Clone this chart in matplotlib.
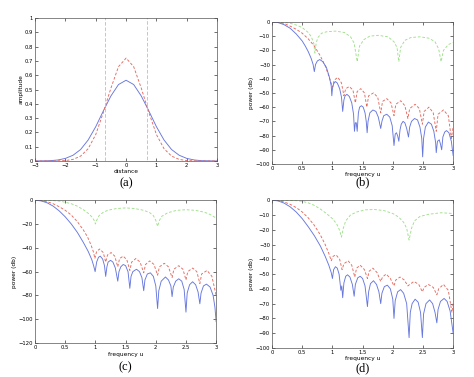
import matplotlib.pyplot as plt

# ---- (a) amplitude vs distance ----
dist = [-3, -2.5, -2.25, -2, -1.75, -1.5, -1.25, -1, -0.75, -0.5, -0.25, 0,
        0.25, 0.5, 0.75, 1, 1.25, 1.5, 1.75, 2, 2.25, 2.5, 3]
amp_blue = [0, 0.002, 0.007, 0.018, 0.04, 0.08, 0.147, 0.24, 0.35, 0.455, 0.535, 0.565,
            0.535, 0.455, 0.35, 0.24, 0.147, 0.08, 0.04, 0.018, 0.007, 0.002, 0]
amp_red = [0, 0, 0.001, 0.003, 0.011, 0.034, 0.086, 0.185, 0.34, 0.51, 0.66, 0.72,
           0.66, 0.51, 0.34, 0.185, 0.086, 0.034, 0.011, 0.003, 0.001, 0, 0]
box_x = [-3, -0.7, -0.7, 0.7, 0.7, 3]
box_y = [0, 0, 1.2, 1.2, 0, 0]

# ---- (b) ----
b_blue_u = [0, 0.1, 0.2, 0.3, 0.4, 0.5, 0.55, 0.6, 0.65, 0.68, 0.70,
            0.72, 0.75, 0.79, 0.84, 0.9, 0.95, 0.98, 0.99,
            1.00, 1.02, 1.05, 1.08, 1.12, 1.15, 1.17,
            1.19, 1.21, 1.24, 1.28, 1.32, 1.35, 1.365, 1.38, 1.395, 1.41,
            1.43, 1.45, 1.48, 1.51, 1.54, 1.56, 1.575,
            1.59, 1.62, 1.67, 1.72, 1.76, 1.80,
            1.82, 1.85, 1.9, 1.95, 1.99, 2.02, 2.04, 2.06, 2.08, 2.10,
            2.12, 2.14, 2.17, 2.20, 2.23, 2.26,
            2.28, 2.31, 2.36, 2.41, 2.45, 2.48, 2.495,
            2.51, 2.54, 2.59, 2.64, 2.68, 2.71, 2.72, 2.74, 2.77, 2.79, 2.81,
            2.83, 2.86, 2.89, 2.93, 2.97, 3.0]
b_blue_db = [0, -0.5, -2, -4.5, -8.5, -13.5, -17, -21, -26, -30, -35,
             -30, -27.5, -26.5, -28, -32, -39, -45, -52,
             -47, -43.5, -42, -43, -47, -53, -63,
             -55, -52, -51, -52.5, -57, -65, -77, -71, -71, -77,
             -64, -60, -59, -60, -64, -70, -78,
             -70, -64, -62, -63, -67, -75,
             -70, -66, -65, -67, -73, -87, -79, -78, -80, -84,
             -76, -72, -70, -71, -75, -81,
             -74, -70, -68, -69, -74, -82, -95,
             -82, -74, -70.5, -72, -77, -85, -92, -84, -83, -86, -90,
             -81, -77.5, -76.5, -78, -84, -94]
b_red_u = [0, 0.1, 0.2, 0.3, 0.4, 0.5, 0.6, 0.7, 0.8, 0.88, 0.94, 1.0,
           1.03, 1.09, 1.15, 1.19, 1.22, 1.28, 1.34, 1.38,
           1.41, 1.47, 1.53, 1.57, 1.60, 1.68, 1.75, 1.80,
           1.83, 1.9, 1.97, 2.02, 2.05, 2.13, 2.20, 2.25,
           2.28, 2.37, 2.44, 2.49, 2.52, 2.6, 2.67, 2.72,
           2.75, 2.84, 2.92, 2.97, 3.0]
b_red_db = [0, -0.3, -1.2, -3, -5.2, -8, -12, -17, -24, -31, -38, -46,
            -41, -39, -43, -52, -47, -45.5, -48, -57,
            -49, -47, -50, -60, -52, -50, -53, -64,
            -56, -54, -57, -66, -58, -55.5, -59, -68,
            -61, -58, -61, -72, -63, -60, -64, -77,
            -65, -62, -66, -82, -74]
b_green_u = [0, 0.2, 0.3, 0.4, 0.5, 0.6, 0.65, 0.69, 0.71, 0.73, 0.76, 0.82, 0.9, 1.05,
             1.2, 1.3, 1.36, 1.41, 1.45, 1.52, 1.62, 1.76, 1.92, 2.02, 2.07, 2.1,
             2.13, 2.2, 2.3, 2.45, 2.6, 2.7, 2.76, 2.8, 2.84, 2.92, 3.0]
b_green_db = [0, -0.3, -1, -2.2, -4, -7.5, -10.5, -15, -22, -15, -11, -8, -7, -6.5,
              -7.5, -10.5, -15, -28, -17, -12.5, -10, -9.5, -10.5, -14, -18, -28,
              -18, -13, -11, -10.5, -11.5, -14, -19, -28, -20, -16, -14.5]

# ---- (c) ----
c_blue_u = [0, 0.1, 0.2, 0.3, 0.4, 0.5, 0.6, 0.7, 0.8, 0.88, 0.94, 0.97, 0.995,
            1.02, 1.05, 1.08, 1.12, 1.15, 1.17,
            1.19, 1.21, 1.25, 1.29, 1.33, 1.37,
            1.39, 1.42, 1.46, 1.5, 1.54, 1.57,
            1.59, 1.62, 1.68, 1.73, 1.77, 1.80,
            1.82, 1.86, 1.91, 1.96, 2.0, 2.03,
            2.05, 2.09, 2.16, 2.21, 2.25, 2.27,
            2.29, 2.33, 2.38, 2.43, 2.47, 2.5,
            2.52, 2.56, 2.61, 2.66, 2.70, 2.73,
            2.75, 2.79, 2.84, 2.9, 2.95, 2.98, 3.0]
c_blue_db = [0, -0.6, -2.2, -5, -9, -14, -20, -27, -35.5, -43, -50, -55, -60,
             -52, -48, -47, -49.5, -55, -64,
             -56, -52, -50.5, -52, -57, -68,
             -60, -56, -54, -55, -60, -74,
             -64, -60, -58, -60, -65, -76,
             -67, -62, -61, -64, -72, -91,
             -76, -68, -64.5, -67, -72, -81,
             -73, -68, -66, -68, -75, -94,
             -78, -71, -68.5, -71, -77, -87,
             -78, -72, -70.5, -73, -80, -90, -102]
c_red_u = [0, 0.1, 0.2, 0.3, 0.4, 0.5, 0.6, 0.7, 0.8, 0.87, 0.93, 0.97, 0.99,
           1.02, 1.07, 1.13, 1.17, 1.20, 1.26, 1.32, 1.37,
           1.40, 1.46, 1.52, 1.57, 1.60, 1.67, 1.74, 1.80,
           1.83, 1.9, 1.97, 2.03, 2.06, 2.14, 2.21, 2.27,
           2.30, 2.38, 2.45, 2.5, 2.53, 2.61, 2.68, 2.73,
           2.76, 2.85, 2.93, 3.0]
c_red_db = [0, -0.3, -1.3, -3, -5.5, -8.5, -12.5, -18, -25, -31, -38, -44, -49,
            -43, -41, -44, -52, -46, -44, -47, -56,
            -49, -47, -50, -59, -52, -49, -52, -61,
            -54, -51, -54, -63, -56, -53, -56, -65,
            -58, -55, -58, -67, -60, -57, -60, -70,
            -62, -59, -64, -80]
c_green_u = [0, 0.3, 0.4, 0.5, 0.6, 0.7, 0.8, 0.88, 0.94, 0.98, 1.0, 1.02, 1.06, 1.12,
             1.2, 1.35, 1.5, 1.65, 1.8, 1.9, 1.96, 2.0, 2.03, 2.06, 2.1, 2.2, 2.35,
             2.5, 2.65, 2.8, 2.9, 3.0]
c_green_db = [0, -0.3, -0.8, -1.7, -3, -5, -8, -11, -14, -17, -20, -17, -13, -10.5,
              -8.5, -7, -6.5, -7, -8.5, -10.5, -13, -17, -22, -17, -13.5, -10.5, -8.5,
              -8, -8.5, -10, -12, -15]

# ---- (d) ----
d_blue_u = [0, 0.1, 0.2, 0.3, 0.4, 0.5, 0.6, 0.7, 0.8, 0.88, 0.94, 0.98, 1.0,
            1.02, 1.05, 1.08, 1.11, 1.14, 1.155, 1.17,
            1.19, 1.22, 1.25, 1.29, 1.33, 1.36,
            1.38, 1.42, 1.46, 1.5, 1.54, 1.58,
            1.6, 1.63, 1.68, 1.73, 1.77, 1.80,
            1.82, 1.86, 1.91, 1.96, 2.0, 2.02,
            2.04, 2.08, 2.13, 2.18, 2.23, 2.27,
            2.29, 2.32, 2.37, 2.42, 2.46, 2.49,
            2.51, 2.55, 2.61, 2.66, 2.70, 2.73,
            2.75, 2.79, 2.85, 2.9, 2.95, 3.0]
d_blue_db = [0, -0.5, -2, -4.5, -8, -12.5, -18, -24, -31, -38, -44, -49, -53,
             -47, -45, -46, -50, -61, -58, -66,
             -56, -51.5, -50.5, -52, -57, -65,
             -57, -52.5, -51.5, -53, -58, -72,
             -62, -56.5, -54.5, -57, -62, -70,
             -63, -58.5, -57.5, -60, -67, -80,
             -68, -62, -60.5, -63, -70, -93,
             -76, -70, -67, -69, -76, -93,
             -77, -70, -67.5, -70, -76, -83,
             -74, -68.5, -66.5, -68.5, -75, -90]
d_red_u = [0, 0.1, 0.2, 0.3, 0.4, 0.5, 0.6, 0.7, 0.8, 0.88, 0.94, 0.98,
           1.01, 1.06, 1.12, 1.16, 1.19, 1.26, 1.32, 1.37,
           1.40, 1.46, 1.53, 1.58, 1.61, 1.67, 1.74, 1.80,
           1.83, 1.89, 1.96, 2.02, 2.05, 2.12, 2.19, 2.25,
           2.28, 2.35, 2.43, 2.49, 2.52, 2.59, 2.67, 2.73,
           2.76, 2.84, 2.92, 2.98, 3.0]
d_red_db = [0, -0.3, -1.2, -2.8, -5, -8, -12, -17, -23.5, -30, -36, -41,
            -38, -37, -40, -47, -43, -41, -44, -52,
            -46, -44, -47, -53, -48, -46, -49, -55,
            -52, -50, -53, -58, -54, -52, -54, -58,
            -57, -55, -57, -62, -59, -57, -59, -64,
            -60, -57, -61, -76, -70]
d_green_u = [0, 0.4, 0.5, 0.6, 0.7, 0.8, 0.9, 1.0, 1.07, 1.12, 1.15, 1.18, 1.22, 1.3,
             1.4, 1.55, 1.7, 1.85, 2.0, 2.1, 2.18, 2.23, 2.27, 2.31, 2.36, 2.45, 2.6,
             2.8, 3.0]
d_green_db = [0, -0.3, -0.8, -1.8, -3.5, -6, -9, -12.5, -16, -20.5, -25, -19, -14, -10,
              -8, -6.5, -6.3, -7, -9, -11.5, -15, -19, -27, -19, -14, -11, -9.5,
              -8.5, -9]

BLUE = '#6677dd'
RED = '#e46a60'
GREEN = '#9fe08a'
lw = 0.65

fig = plt.figure(figsize=(4.74, 3.77), dpi=100)
ax_a = fig.add_axes([0.074, 0.573, 0.384, 0.379])
ax_b = fig.add_axes([0.574, 0.565, 0.382, 0.377])
ax_c = fig.add_axes([0.074, 0.090, 0.382, 0.379])
ax_d = fig.add_axes([0.574, 0.077, 0.382, 0.392])


def style(ax):
    ax.tick_params(direction='in', length=2, width=0.4, labelsize=3.8, pad=1.5,
                   top=True, right=True)
    for s in ax.spines.values():
        s.set_linewidth(0.5)
        s.set_color('#555555')


# (a)
ax_a.plot(dist, amp_blue, color=BLUE, lw=lw)
ax_a.plot(dist, amp_red, color=RED, lw=lw, ls=(0, (3, 2)))
ax_a.plot(box_x, box_y, color=GREEN, lw=lw, ls=(0, (4, 2)))
ax_a.set_xlim(-3, 3)
ax_a.set_ylim(0, 1)
ax_a.set_xticks([-3, -2, -1, 0, 1, 2, 3])
ax_a.set_yticks([0, 0.1, 0.2, 0.3, 0.4, 0.5, 0.6, 0.7, 0.8, 0.9, 1])
ax_a.set_yticklabels(['0', '0.1', '0.2', '0.3', '0.4', '0.5', '0.6', '0.7', '0.8', '0.9', '1'])
ax_a.set_xlabel('distance', fontsize=4.2, labelpad=1)
ax_a.set_ylabel('amplitude', fontsize=4.2, labelpad=1)
style(ax_a)

panels = [
    (ax_b, b_blue_u, b_blue_db, b_red_u, b_red_db, b_green_u, b_green_db, -100, 10),
    (ax_c, c_blue_u, c_blue_db, c_red_u, c_red_db, c_green_u, c_green_db, -120, 20),
    (ax_d, d_blue_u, d_blue_db, d_red_u, d_red_db, d_green_u, d_green_db, -100, 10),
]
for ax, bu, bd, ru, rd, gu, gd, ymin, step in panels:
    ax.plot(gu, gd, color=GREEN, lw=lw, ls=(0, (3, 2)))
    ax.plot(ru, rd, color=RED, lw=lw, ls=(0, (3, 2)))
    ax.plot(bu, bd, color=BLUE, lw=lw)
    ax.set_xlim(0, 3)
    ax.set_ylim(ymin, 0)
    ax.set_xticks([0, 0.5, 1, 1.5, 2, 2.5, 3])
    ax.set_xticklabels(['0', '0.5', '1', '1.5', '2', '2.5', '3'])
    ax.set_yticks(list(range(ymin, 1, step)))
    ax.set_xlabel('frequency u', fontsize=4.2, labelpad=1)
    ax.set_ylabel('power (db)', fontsize=4.2, labelpad=1)
    style(ax)

for lab, x, y in [('(a)', 0.266, 0.515), ('(b)', 0.766, 0.517),
                  ('(c)', 0.265, 0.027), ('(d)', 0.765, 0.024)]:
    fig.text(x, y, lab, ha='center', va='center', fontsize=9, family='Liberation Serif')

fig.savefig('out.png', dpi=100)
